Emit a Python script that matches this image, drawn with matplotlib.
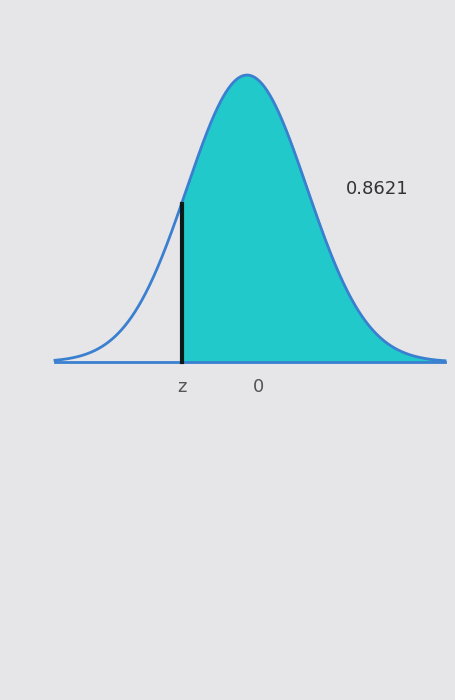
import numpy as np
import matplotlib.pyplot as plt

z_value = -1.09
area_label = "0.8621"
tick_labels = ["z", "0"]
tick_pos = [z_value, 0.2]

x = np.linspace(-3.2, 3.3, 600)
pdf = np.exp(-x**2 / 2) / np.sqrt(2 * np.pi)

fig = plt.figure(figsize=(4.55, 7), dpi=100)
fig.patch.set_facecolor('#e6e6e8')
ax = fig.add_axes([55/455, 338/700, 390/455, 287/700])
ax.set_xlim(-3.2, 3.3)
ax.set_ylim(0, 0.399)
ax.axis('off')

mask = x >= z_value
ax.fill_between(x[mask], 0, pdf[mask], color='#22c9cb', clip_on=False)
ax.plot(x, pdf, color='#3a7fd0', lw=2, clip_on=False)
ax.plot([-3.2, 3.3], [0, 0], color='#3a7fd0', lw=2, clip_on=False)
zy = np.exp(-z_value**2 / 2) / np.sqrt(2 * np.pi)
ax.plot([z_value, z_value], [0, zy], color='#0a1a1a', lw=3, clip_on=False)

ax.text(1.65, 0.24, area_label, fontsize=13, color='#333333', va='center')
for p, t in zip(tick_pos, tick_labels):
    ax.text(p, -0.035, t, fontsize=13, color='#555555', ha='center', va='center')

fig.savefig('out.png', dpi=100, facecolor=fig.get_facecolor())
